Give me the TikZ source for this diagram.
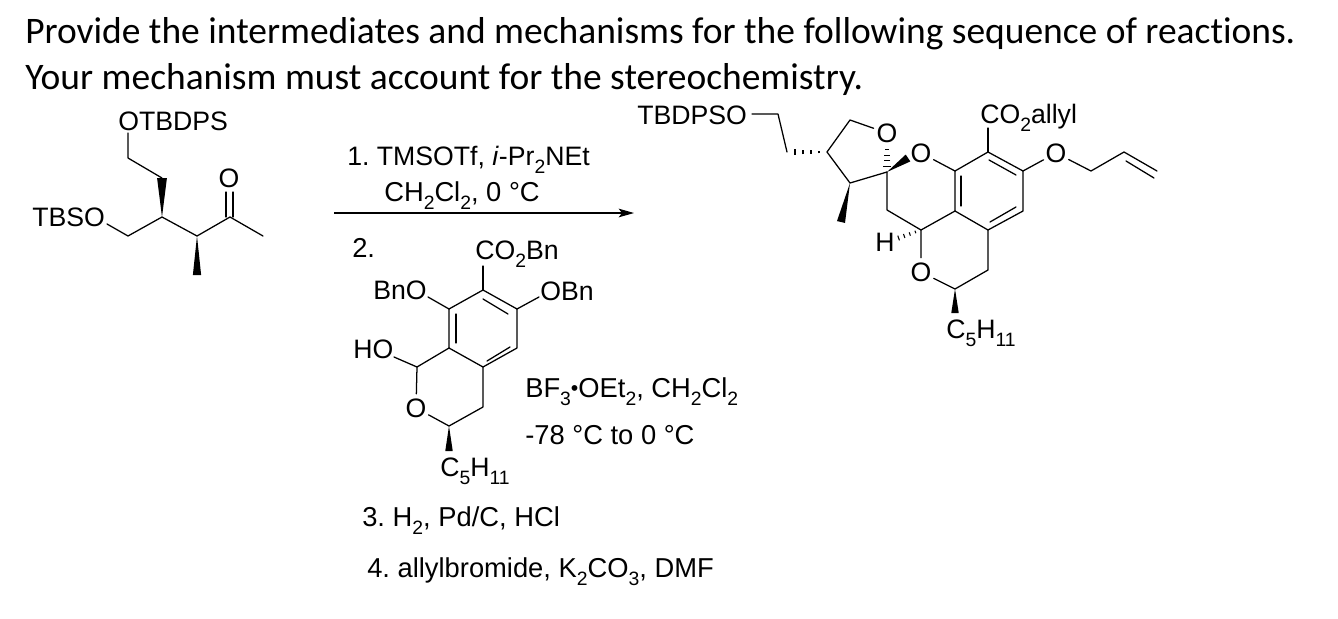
\documentclass[tikz,border=0pt]{standalone}
\usepackage{fontspec}
\setmainfont{Liberation Sans}
\newfontfamily\headfont[Ligatures=NoCommon]{Carlito}
\usetikzlibrary{calc,arrows.meta}
\frenchspacing
\newcommand{\lowsb}[1]{\raisebox{-0.3em}{\fontsize{14.5}{15}\selectfont #1}}
\newcommand{\wedgeb}[3]{\fill (#1) -- ($(#2)!#3!90:(#1)$) -- ($(#2)!#3!-90:(#1)$) -- cycle;}
\newcommand{\hashb}[3]{\foreach \t in {0.2,0.4,0.6,0.8}{\pgfmathsetmacro{\hw}{(0.35+0.75*\t)*#3}
  \draw[line width=0.8pt] ($(#1)!\t!(#2)!\hw pt!90:(#2)$) -- ($(#1)!\t!(#2)!\hw pt!-90:(#2)$);}}
\tikzset{
  bond/.style={line width=0.95pt,line cap=round,line join=round},
  atom/.style={circle,inner sep=0pt,font=\fontsize{20}{24}\selectfont},
  chem/.style={inner sep=0pt,anchor=base west,font=\fontsize{20}{24}\selectfont},
  reag/.style={inner sep=0pt,anchor=base west,font=\fontsize{20.5}{24}\selectfont},
  head/.style={inner sep=0pt,anchor=base west,font=\headfont\fontsize{28.1}{32}\selectfont},
}
\begin{document}
\begin{tikzpicture}[x=0.75pt,y=-0.75pt]
\useasboundingbox (0,0) rectangle (1338,618);
% heading
\node[head] (h1) at (25,43) {Provide the intermediates and mechanisms for the following sequence of reactions.};
\node[head] (h2) at (25,89) {Your mechanism must account for the stereochemistry.};
% ---- starting material
\node[chem] (otbdps) at (118,130) {OTBDPS};
\node[chem] (tbso) at (32,226) {TBSO};
\node[atom] (o1) at (229,178) {O};
\coordinate (a0) at (128,133); \coordinate (a1) at (128,158); \coordinate (a2) at (162,178);
\coordinate (a3) at (162,217); \coordinate (a4) at (128,236); \coordinate (a5) at (107,224);
\coordinate (a6) at (197,236); \coordinate (a7) at (230,217); \coordinate (a8) at (263,236);
\coordinate (a9) at (197,275); \coordinate (a10) at (226,217); \coordinate (a11) at (233,217);
\coordinate (a12) at (226,192); \coordinate (a13) at (233,192);
\draw[bond] (a0)--(a1)--(a2);
\draw[bond] (a5)--(a4)--(a3)--(a6)--(a7)--(a8);
\draw[bond] (a10)--(a12); \draw[bond] (a11)--(a13);
\wedgeb{a3}{a2}{3.7pt}
\wedgeb{a6}{a9}{3.1pt}
% ---- reagents
\coordinate (arS) at (334,213); \coordinate (arE) at (634,213);
\draw[line width=0.85pt,-{Stealth[length=11.5pt,width=6.5pt,inset=2.5pt]}] (arS)--(arE);
\node[reag,font=\fontsize{20}{24}\selectfont] (r1) at (347,165) {1. TMSOTf, \textit{i}-Pr\lowsb{2}NEt};
\node[reag] (r1b) at (384,201) {CH\lowsb{2}Cl\lowsb{2}, 0 °C};
\node[reag] (r2) at (352,257) {2.};
\node[reag] (r3) at (525,397) {BF\lowsb{3}\raisebox{0.06em}{\fontsize{16}{16}\selectfont •}OEt\lowsb{2}, CH\lowsb{2}Cl\lowsb{2}};
\node[reag] (r4) at (525,444) {-78 °C to 0 °C};
\node[reag] (r5) at (362,526) {3. H\lowsb{2}, Pd/C, HCl};
\node[reag] (r6) at (367,577) {4. allylbromide, K\lowsb{2}CO\lowsb{3}, DMF};
% ---- lactol
\node[chem] (co2bn) at (475,259) {CO\lowsb{2}Bn};
\node[chem] (bno) at (373,299) {BnO};
\node[chem] (obn) at (540,300) {OBn};
\node[chem] (ho) at (353,358) {HO};
\node[atom] (o2) at (416,408) {O};
\node[chem] (c5a) at (440,476) {C\lowsb{5}H\lowsb{11}};
\coordinate (b1) at (483,290); \coordinate (b2) at (449,309); \coordinate (b3) at (449,348);
\coordinate (b4) at (483,367); \coordinate (b5) at (517,348); \coordinate (b6) at (517,309);
\coordinate (b7) at (483,266); \coordinate (b8) at (428,297); \coordinate (b9) at (539,297);
\coordinate (b10) at (394,357); \coordinate (b11) at (417,367); \coordinate (b12) at (449,426);
\coordinate (b13) at (483,407); \coordinate (b14) at (449,451);
\coordinate (bi1) at (456,314); \coordinate (bi2) at (456,343);
\coordinate (bi3) at (483,299); \coordinate (bi4) at (508,314);
\coordinate (bi5) at (487,361); \coordinate (bi6) at (510,347);
\draw[bond] (b1)--(b2)--(b3)--(b4)--(b5)--(b6)--cycle;
\draw[bond] (bi1)--(bi2); \draw[bond] (bi3)--(bi4); \draw[bond] (bi5)--(bi6);
\draw[bond] (b7)--(b1); \draw[bond] (b8)--(b2); \draw[bond] (b9)--(b6);
\draw[bond] (b10)--(b11)--(b3);
\draw[bond] (b11)--(o2)--(b12)--(b13)--(b4);
\wedgeb{b12}{b14}{2.8pt}
% ---- product
\node[chem] (tbdpso) at (637,124) {TBDPSO};
\node[atom] (o3) at (887,133) {O};
\node[atom] (o4) at (921,153) {O};
\node[atom] (o5) at (921,272) {O};
\node[atom] (o6) at (1056,153) {O};
\node[chem] (co2al) at (980,123) {CO\lowsb{2}allyl};
\node[chem] (hh) at (875,251) {H};
\node[chem] (c5b) at (946,338) {C\lowsb{5}H\lowsb{11}};
\coordinate (c0) at (752,114); \coordinate (c1) at (778,114); \coordinate (c2) at (787,152);
\coordinate (c3) at (827,152); \coordinate (c4) at (850,120); \coordinate (c5) at (850,183);
\coordinate (c6) at (887,172); \coordinate (c7) at (841,222); \coordinate (c8) at (887,210);
\coordinate (c9) at (921,230); \coordinate (c10) at (893,240); \coordinate (c11) at (908,158);
\coordinate (c12) at (887,144); \coordinate (c13) at (955,289); \coordinate (c14) at (988,270);
\coordinate (c15) at (955,313);
\coordinate (d1) at (955,171); \coordinate (d2) at (988,152); \coordinate (d3) at (1023,171);
\coordinate (d4) at (1023,211); \coordinate (d5) at (988,230); \coordinate (d6) at (955,211);
\coordinate (d7) at (988,128);
\coordinate (di1) at (961,176); \coordinate (di2) at (961,206);
\coordinate (di3) at (989,160); \coordinate (di4) at (1016,175);
\coordinate (di5) at (990,222); \coordinate (di6) at (1016,207);
\coordinate (e1) at (1091,171); \coordinate (e2) at (1124,152); \coordinate (e3) at (1157,171);
\coordinate (e4) at (1126,161); \coordinate (e5) at (1154,178);
\draw[bond] (c0)--(c1)--(c2);
\draw[bond] (c3)--(c4)--(o3);
\draw[bond] (c3)--(c5)--(c6);
\draw[bond] (c6)--(c8)--(c9)--(d6);
\draw[bond] (c9)--(o5)--(c13)--(c14)--(d5);
\draw[bond] (o4)--(d1);
\draw[bond] (d1)--(d2)--(d3)--(d4)--(d5)--(d6)--cycle;
\draw[bond] (di1)--(di2); \draw[bond] (di3)--(di4); \draw[bond] (di5)--(di6);
\draw[bond] (d7)--(d2);
\draw[bond] (d3)--(o6)--(e1)--(e2)--(e3);
\draw[bond] (e4)--(e5);
\wedgeb{c5}{c7}{3.1pt}
\wedgeb{c6}{c11}{3.1pt}
\wedgeb{c13}{c15}{2.8pt}
\hashb{c3}{c2}{2.2}
\hashb{c12}{c6}{3.2}
\hashb{c9}{c10}{2}
\end{tikzpicture}
\end{document}
